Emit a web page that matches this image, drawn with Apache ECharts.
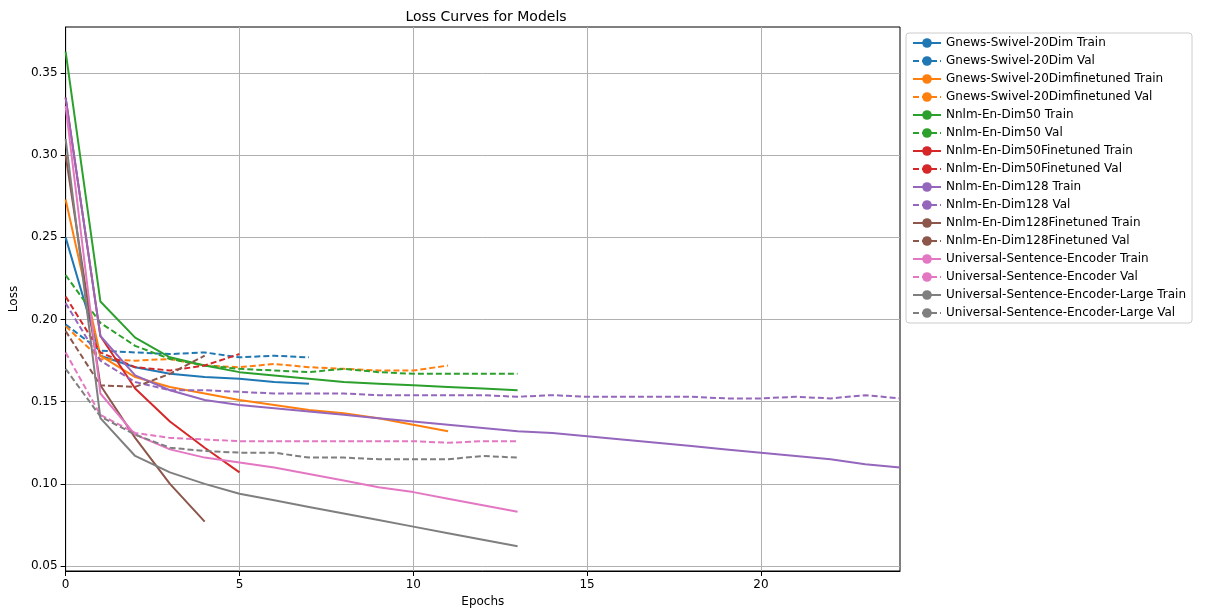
<!DOCTYPE html>
<html><head><meta charset="utf-8">
<script src="https://cdn.jsdelivr.net/npm/echarts@6/dist/echarts.min.js"></script>
<style>html,body{margin:0;background:#fff}#main{width:1209px;height:616px}</style>
</head><body><div id="main"></div>
<script>
var names = ['Gnews-Swivel-20Dim', 'Gnews-Swivel-20Dimfinetuned', 'Nnlm-En-Dim50', 'Nnlm-En-Dim50Finetuned',
  'Nnlm-En-Dim128', 'Nnlm-En-Dim128Finetuned', 'Universal-Sentence-Encoder', 'Universal-Sentence-Encoder-Large'];
var colors = ['#1f77b4', '#ff7f0e', '#2ca02c', '#d62728', '#9467bd', '#8c564b', '#e377c2', '#7f7f7f'];

var trainLoss = [
  [0.250, 0.178, 0.171, 0.167, 0.165, 0.164, 0.162, 0.161],
  [0.273, 0.178, 0.165, 0.159, 0.155, 0.151, 0.148, 0.145, 0.143, 0.140, 0.136, 0.132],
  [0.363, 0.211, 0.189, 0.177, 0.172, 0.168, 0.166, 0.164, 0.162, 0.161, 0.160, 0.159, 0.158, 0.157],
  [0.335, 0.190, 0.158, 0.138, 0.122, 0.107],
  [0.335, 0.190, 0.166, 0.157, 0.151, 0.148, 0.146, 0.144, 0.142, 0.140, 0.138, 0.136, 0.134, 0.132,
   0.131, 0.129, 0.127, 0.125, 0.123, 0.121, 0.119, 0.117, 0.115, 0.112, 0.110],
  [0.300, 0.160, 0.128, 0.100, 0.077],
  [0.330, 0.155, 0.130, 0.121, 0.116, 0.113, 0.110, 0.106, 0.102, 0.098, 0.095, 0.091, 0.087, 0.083],
  [0.310, 0.140, 0.117, 0.107, 0.100, 0.094, 0.090, 0.086, 0.082, 0.078, 0.074, 0.070, 0.066, 0.062]
];
var valLoss = [
  [0.197, 0.181, 0.180, 0.179, 0.180, 0.177, 0.178, 0.177],
  [0.196, 0.176, 0.175, 0.176, 0.172, 0.171, 0.173, 0.171, 0.170, 0.169, 0.169, 0.172],
  [0.227, 0.198, 0.184, 0.176, 0.172, 0.170, 0.169, 0.168, 0.170, 0.168, 0.167, 0.167, 0.167, 0.167],
  [0.214, 0.180, 0.171, 0.169, 0.172, 0.179],
  [0.210, 0.175, 0.162, 0.157, 0.157, 0.156, 0.155, 0.155, 0.155, 0.154, 0.154, 0.154, 0.154, 0.153,
   0.154, 0.153, 0.153, 0.153, 0.153, 0.152, 0.152, 0.153, 0.152, 0.154, 0.152],
  [0.193, 0.160, 0.159, 0.167, 0.178],
  [0.180, 0.142, 0.131, 0.128, 0.127, 0.126, 0.126, 0.126, 0.126, 0.126, 0.126, 0.125, 0.126, 0.126],
  [0.170, 0.141, 0.130, 0.122, 0.120, 0.119, 0.119, 0.116, 0.116, 0.115, 0.115, 0.115, 0.117, 0.116]
];
var yTicks = [0.05, 0.10, 0.15, 0.20, 0.25, 0.30, 0.35];
var xTicks = [0, 5, 10, 15, 20];

function pts(arr) { return arr.map(function (v, i) { return [i, v]; }); }

var series = [];
var legendNames = [];
names.forEach(function (n, k) {
  legendNames.push(n + ' Train', n + ' Val');
  series.push({ name: n + ' Train', type: 'line', data: pts(trainLoss[k]), symbol: 'none',
    lineStyle: { color: colors[k], width: 2 }, itemStyle: { color: colors[k] } });
  series.push({ name: n + ' Val', type: 'line', data: pts(valLoss[k]), symbol: 'none',
    lineStyle: { color: colors[k], width: 2, type: [6, 3] }, itemStyle: { color: colors[k] } });
});

var myChart = echarts.init(document.getElementById('main'));
myChart.setOption({
  animation: false,
  textStyle: { fontFamily: 'DejaVu Sans' },
  title: { text: 'Loss Curves for Models', left: 481, top: 5, textAlign: 'center',
    textStyle: { fontSize: 14, fontWeight: 'normal', color: '#000' } },
  grid: { left: 62, right: 309, top: 27, bottom: 45, show: true, borderColor: '#000', borderWidth: 1 },
  legend: {
    data: legendNames, orient: 'vertical', left: 906, top: 33, itemWidth: 28, itemHeight: 12, itemGap: 6,
    borderColor: '#ccc', borderWidth: 1, borderRadius: 3, padding: [4, 6],
    textStyle: { fontSize: 12, color: '#000' }
  },
  xAxis: {
    type: 'value', min: 0, max: 24, name: 'Epochs', nameLocation: 'middle', nameGap: 22,
    nameTextStyle: { fontSize: 12, color: '#000' },
    axisLine: { lineStyle: { color: '#000' } },
    axisTick: { show: true, customValues: xTicks, lineStyle: { color: '#000' } },
    axisLabel: { color: '#000', fontSize: 12, customValues: xTicks },
    splitLine: { show: true, lineStyle: { color: '#b0b0b0' } }
  },
  yAxis: {
    type: 'value', min: 0.047, max: 0.378, name: 'Loss', nameLocation: 'middle', nameGap: 42,
    nameTextStyle: { fontSize: 12, color: '#000' },
    axisLine: { show: true, lineStyle: { color: '#000' } },
    axisTick: { show: true, customValues: yTicks, lineStyle: { color: '#000' } },
    axisLabel: { color: '#000', fontSize: 12, customValues: yTicks,
      formatter: function (v) { return v.toFixed(2); } },
    splitLine: { show: true, lineStyle: { color: '#b0b0b0' } }
  },
  series: series
});
</script></body></html>
